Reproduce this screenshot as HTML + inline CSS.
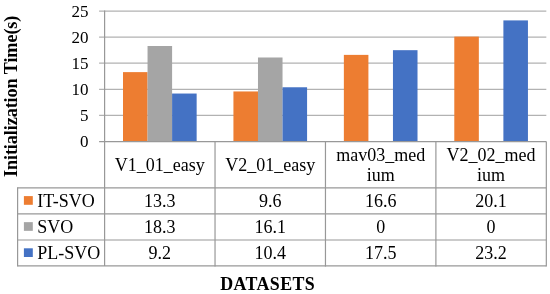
<!DOCTYPE html>
<html><head><meta charset="utf-8"><title>Initialization Time</title>
<style>html,body{margin:0;padding:0;background:#fff}svg{display:block}</style></head>
<body>
<svg width="550" height="294" viewBox="0 0 550 294">
<rect width="550" height="294" fill="#fff"/>
<line x1="99.1" x2="546.32" y1="115.48" y2="115.48" stroke="#b2b2b2" stroke-width="1.25"/>
<line x1="99.1" x2="546.32" y1="89.36" y2="89.36" stroke="#b2b2b2" stroke-width="1.25"/>
<line x1="99.1" x2="546.32" y1="63.24" y2="63.24" stroke="#b2b2b2" stroke-width="1.25"/>
<line x1="99.1" x2="546.32" y1="37.12" y2="37.12" stroke="#b2b2b2" stroke-width="1.25"/>
<line x1="99.1" x2="546.32" y1="11.00" y2="11.00" stroke="#b2b2b2" stroke-width="1.25"/>
<rect x="123.00" y="72.12" width="24.55" height="69.48" fill="#ED7D31"/>
<rect x="147.55" y="46.00" width="24.55" height="95.60" fill="#A5A5A5"/>
<rect x="172.10" y="93.54" width="24.55" height="48.06" fill="#4472C4"/>
<rect x="233.43" y="91.45" width="24.55" height="50.15" fill="#ED7D31"/>
<rect x="257.98" y="57.49" width="24.55" height="84.11" fill="#A5A5A5"/>
<rect x="282.53" y="87.27" width="24.55" height="54.33" fill="#4472C4"/>
<rect x="343.86" y="54.88" width="24.55" height="86.72" fill="#ED7D31"/>
<rect x="392.96" y="50.18" width="24.55" height="91.42" fill="#4472C4"/>
<rect x="454.29" y="36.60" width="24.55" height="105.00" fill="#ED7D31"/>
<rect x="503.39" y="20.40" width="24.55" height="121.20" fill="#4472C4"/>
<line x1="99.1" x2="546.32" y1="141.6" y2="141.6" stroke="#989898" stroke-width="1.2"/>
<line x1="104.6" x2="104.6" y1="10.4" y2="266" stroke="#989898" stroke-width="1.2"/>
<line x1="17.6" x2="546.32" y1="187.8" y2="187.8" stroke="#989898" stroke-width="1.2"/>
<line x1="17.6" x2="546.32" y1="213.85" y2="213.85" stroke="#989898" stroke-width="1.2"/>
<line x1="17.6" x2="546.32" y1="240.0" y2="240.0" stroke="#989898" stroke-width="1.2"/>
<line x1="17.6" x2="546.32" y1="265.95" y2="265.95" stroke="#989898" stroke-width="1.2"/>
<line x1="17.6" x2="17.6" y1="187.20000000000002" y2="266.55" stroke="#989898" stroke-width="1.2"/>
<line x1="215.03" x2="215.03" y1="141.6" y2="266.55" stroke="#989898" stroke-width="1.2"/>
<line x1="325.46" x2="325.46" y1="141.6" y2="266.55" stroke="#989898" stroke-width="1.2"/>
<line x1="435.89" x2="435.89" y1="141.6" y2="266.55" stroke="#989898" stroke-width="1.2"/>
<line x1="546.32" x2="546.32" y1="141.6" y2="266.55" stroke="#989898" stroke-width="1.2"/>
<g font-family="'Liberation Serif', 'Times New Roman', serif" font-size="18" fill="#000">
<text x="88.4" y="147.30" text-anchor="end" font-size="17">0</text>
<text x="88.4" y="121.18" text-anchor="end" font-size="17">5</text>
<text x="88.4" y="95.06" text-anchor="end" font-size="17">10</text>
<text x="88.4" y="68.94" text-anchor="end" font-size="17">15</text>
<text x="88.4" y="42.82" text-anchor="end" font-size="17">20</text>
<text x="88.4" y="16.70" text-anchor="end" font-size="17">25</text>
<text x="159.81" y="171.1" text-anchor="middle">V1_01_easy</text>
<text x="270.25" y="171.1" text-anchor="middle">V2_01_easy</text>
<text x="380.68" y="161.0" text-anchor="middle">mav03_med</text>
<text x="380.68" y="180.7" text-anchor="middle">ium</text>
<text x="491.11" y="161.0" text-anchor="middle">V2_02_med</text>
<text x="491.11" y="180.7" text-anchor="middle">ium</text>
<rect x="23.9" y="196.10" width="8.9" height="8.7" fill="#ED7D31"/>
<text x="37.3" y="206.50">IT-SVO</text>
<text x="159.81" y="207.20" text-anchor="middle">13.3</text>
<text x="270.25" y="207.20" text-anchor="middle">9.6</text>
<text x="380.68" y="207.20" text-anchor="middle">16.6</text>
<text x="491.11" y="207.20" text-anchor="middle">20.1</text>
<rect x="23.9" y="222.15" width="8.9" height="8.7" fill="#A5A5A5"/>
<text x="37.3" y="232.55">SVO</text>
<text x="159.81" y="233.25" text-anchor="middle">18.3</text>
<text x="270.25" y="233.25" text-anchor="middle">16.1</text>
<text x="380.68" y="233.25" text-anchor="middle">0</text>
<text x="491.11" y="233.25" text-anchor="middle">0</text>
<rect x="23.9" y="248.30" width="8.9" height="8.7" fill="#4472C4"/>
<text x="37.3" y="258.70">PL-SVO</text>
<text x="159.81" y="259.40" text-anchor="middle">9.2</text>
<text x="270.25" y="259.40" text-anchor="middle">10.4</text>
<text x="380.68" y="259.40" text-anchor="middle">17.5</text>
<text x="491.11" y="259.40" text-anchor="middle">23.2</text>
</g>
<g font-family="'Liberation Serif', 'Times New Roman', serif" font-size="17.7" font-weight="bold" fill="#000">
<text x="220.3" y="289.9" font-size="17.9" letter-spacing="0.37">DATASETS</text>
<text transform="translate(16.9,96.4) rotate(-90)" text-anchor="middle" font-size="18.2" letter-spacing="-0.1">Initialization Time(s)</text>
</g>
</svg>
</body></html>
